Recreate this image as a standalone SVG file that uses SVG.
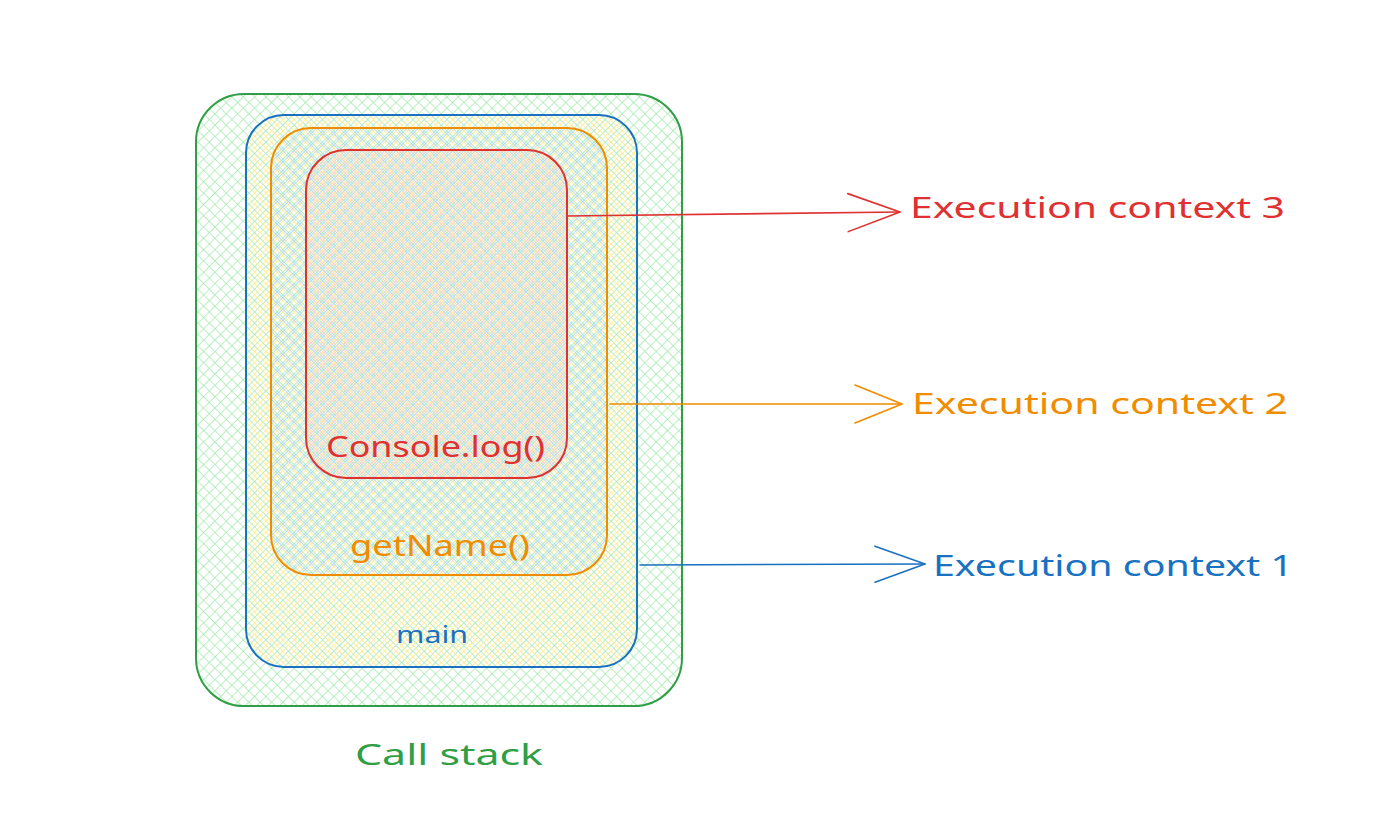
<svg xmlns="http://www.w3.org/2000/svg" width="1400" height="827" viewBox="0 0 1400 827">
<style>
.box{stroke-width:2;stroke-linejoin:round}
.lbl{font-family:"Noto Sans","Liberation Sans",sans-serif;font-size:29px}
.conn{fill:none;stroke-width:1.6;stroke-linecap:round}
</style>
<defs>
<pattern id="hg" width="8" height="8" patternUnits="userSpaceOnUse" patternTransform="rotate(45)"><path d="M0 0V8M0 0H8" stroke="#a3eaae" stroke-width="1.5" fill="none"/></pattern>
<pattern id="hy" width="8" height="8" patternUnits="userSpaceOnUse" patternTransform="rotate(45) translate(4 4)"><path d="M0 0V8M0 0H8" stroke="#ffe783" stroke-width="1.5" fill="none"/></pattern>
<pattern id="hb" width="8" height="8" patternUnits="userSpaceOnUse" patternTransform="rotate(45) translate(2 2)"><path d="M0 0V8M0 0H8" stroke="#a0d5ff" stroke-width="1.5" fill="none"/></pattern>
<pattern id="hr" width="8" height="8" patternUnits="userSpaceOnUse" patternTransform="rotate(45) translate(6 6)"><path d="M0 0V8M0 0H8" stroke="#ffc4c4" stroke-width="1.5" fill="none"/></pattern>
<marker id="ar" viewBox="-56 -22 60 44" refX="0" refY="0" markerWidth="60" markerHeight="44" markerUnits="userSpaceOnUse" orient="auto" overflow="visible"><path d="M-52,-19 L0,0 L-52,19" fill="none" stroke="#e03131" stroke-width="1.6" stroke-linecap="round" stroke-linejoin="round"/></marker>
<marker id="ao" viewBox="-56 -22 60 44" refX="0" refY="0" markerWidth="60" markerHeight="44" markerUnits="userSpaceOnUse" orient="auto" overflow="visible"><path d="M-47,-19 L0,0 L-47,19" fill="none" stroke="#f08c00" stroke-width="1.6" stroke-linecap="round" stroke-linejoin="round"/></marker>
<marker id="ab" viewBox="-56 -22 60 44" refX="0" refY="0" markerWidth="60" markerHeight="44" markerUnits="userSpaceOnUse" orient="auto" overflow="visible"><path d="M-50,-18 L0,0 L-50,18" fill="none" stroke="#1971c2" stroke-width="1.6" stroke-linecap="round" stroke-linejoin="round"/></marker>
</defs>
<rect width="1400" height="827" fill="#ffffff"/>
<g id="callstack">
<rect class="box" x="196" y="94" width="486" height="612" rx="48" fill="url(#hg)" stroke="#2f9e44"/>
<text class="lbl" x="355" y="765" fill="#2f9e44" textLength="188" lengthAdjust="spacingAndGlyphs">Call stack</text>
</g>
<g id="main">
<rect class="box" x="246" y="115" width="391" height="552" rx="38" fill="url(#hy)" stroke="#1971c2"/>
<text class="lbl" x="396" y="643" fill="#1971c2" style="font-size:23px" textLength="72" lengthAdjust="spacingAndGlyphs">main</text>
</g>
<g id="getname">
<rect class="box" x="271" y="128" width="336" height="447" rx="40" fill="url(#hb)" stroke="#f08c00"/>
<text class="lbl" x="350" y="556" fill="#f08c00" textLength="180" lengthAdjust="spacingAndGlyphs">getName()</text>
</g>
<g id="consolelog">
<rect class="box" x="306" y="150" width="261" height="328" rx="40" fill="url(#hr)" stroke="#e03131"/>
<text class="lbl" x="326" y="457" fill="#e03131" textLength="219" lengthAdjust="spacingAndGlyphs">Console.log()</text>
</g>
<g id="ec3">
<text class="lbl" x="910" y="218" fill="#e03131" textLength="375" lengthAdjust="spacingAndGlyphs">Execution context 3</text>
</g>
<g id="ec2">
<text class="lbl" x="912" y="414" fill="#f08c00" textLength="376" lengthAdjust="spacingAndGlyphs">Execution context 2</text>
</g>
<g id="ec1">
<text class="lbl" x="933" y="576" fill="#1971c2" textLength="360" lengthAdjust="spacingAndGlyphs">Execution context 1</text>
</g>
<g id="connectors">
<path class="conn" d="M567,216 L900,212" stroke="#e03131" marker-end="url(#ar)"/>
<path class="conn" d="M610,404 L902,404" stroke="#f08c00" marker-end="url(#ao)"/>
<path class="conn" d="M640,565 L925,564" stroke="#1971c2" marker-end="url(#ab)"/>
</g>
</svg>
